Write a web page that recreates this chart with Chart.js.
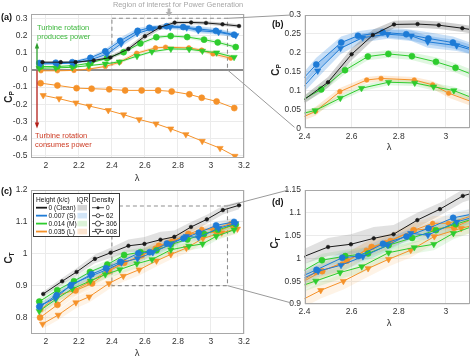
<!DOCTYPE html>
<html>
<head>
<meta charset="utf-8">
<script src="https://cdn.jsdelivr.net/npm/chart.js@4.4.1/dist/chart.umd.min.js"></script>
<style>
html,body{margin:0;padding:0;background:#fff;}
#wrap{position:relative;width:474px;height:357px;overflow:hidden;background:#fff;}
#wrap canvas{position:absolute;left:0;top:0;}
#ov{position:absolute;left:0;top:0;}
svg text{font-family:"Liberation Sans",Arial,sans-serif;}
</style>
</head>
<body>
<div id="wrap">
<canvas id="ca" width="474" height="357"></canvas>
<canvas id="cb" width="474" height="357"></canvas>
<canvas id="cc" width="474" height="357"></canvas>
<canvas id="cd" width="474" height="357"></canvas>
<svg id="ov" width="474" height="357" xmlns="http://www.w3.org/2000/svg"></svg>
</div>
<script>
// ---------- tick values / labels ----------
const xTicksWide = [2, 2.2, 2.4, 2.6, 2.8, 3, 3.2];
const xLabelsWide = ['2', '2.2', '2.4', '2.6', '2.8', '3', '3.2'];
const xTicksZoom = [2.4, 2.6, 2.8, 3];
const xLabelsZoom = ['2.4', '2.6', '2.8', '3'];
const yTicksA = [-0.5, -0.4, -0.3, -0.2, -0.1, 0, 0.1, 0.2, 0.3];
const yLabelsA = ['-0.5', '-0.4', '-0.3', '-0.2', '-0.1', '0', '0.1', '0.2', '0.3'];
const yTicksB = [0, 0.05, 0.1, 0.15, 0.2, 0.25, 0.3];
const yLabelsB = ['0', '0.05', '0.1', '0.15', '0.2', '0.25', '0.3'];
const yTicksC = [0.8, 0.9, 1, 1.1, 1.2];
const yLabelsC = ['0.8', '0.9', '1', '1.1', '1.2'];
const yTicksD = [0.9, 0.95, 1, 1.05, 1.1, 1.15];
const yLabelsD = ['0.9', '0.95', '1', '1.05', '1.1', '1.15'];

// axis ranges
const lamRangeWide = [1.91, 3.2];
const cpRangeWide = [-0.512, 0.325];
const ctRangeWide = [0.75, 1.2];
// region of interest (zoom panels)
const regionLam = [2.4, 3.1];
const regionCP = [0, 0.3];
const regionCT = [0.9, 1.15];

// legend texts
const heightLabels = ['0 (Clean)', '0.007 (S)', '0.014 (M)', '0.035 (L)'];
const densityLabels = ['0', '62', '306', '608'];

// ---------- power coefficient C_P ----------
const lamP_clean = [1.98, 2.09, 2.18, 2.29, 2.39, 2.50, 2.60, 2.69, 2.78, 2.88, 2.97, 3.07, 3.17];
const cp_clean   = [0.045, 0.045, 0.045, 0.055, 0.072, 0.122, 0.196, 0.247, 0.275, 0.276, 0.273, 0.265, 0.255];
const iqrP_clean = [0.004, 0.004, 0.004, 0.006, 0.010, 0.014, 0.016, 0.014, 0.010, 0.010, 0.010, 0.010, 0.010];

const lamP_S306 = [1.96, 2.06, 2.16, 2.27, 2.36, 2.45, 2.556, 2.627, 2.732, 2.832, 2.926, 3.03, 3.14];
const cp_S306   = [0.040, 0.042, 0.045, 0.070, 0.108, 0.169, 0.227, 0.245, 0.254, 0.249, 0.238, 0.227, 0.205];
const iqrP_S306 = [0.005, 0.005, 0.006, 0.010, 0.014, 0.018, 0.016, 0.012, 0.012, 0.014, 0.016, 0.016, 0.014];

const lamP_S608 = [1.97, 2.07, 2.17, 2.27, 2.37, 2.456, 2.553, 2.647, 2.753, 2.853, 2.923, 3.046, 3.15];
const cp_S608   = [0.035, 0.036, 0.040, 0.058, 0.092, 0.152, 0.212, 0.240, 0.249, 0.245, 0.229, 0.219, 0.200];
const iqrP_S608 = [0.005, 0.005, 0.006, 0.010, 0.014, 0.018, 0.016, 0.012, 0.012, 0.014, 0.016, 0.014, 0.012];

const lamP_M306 = [1.97, 2.07, 2.17, 2.27, 2.37, 2.471, 2.572, 2.669, 2.756, 2.856, 2.958, 3.041, 3.15];
const cp_M306   = [0.020, 0.020, 0.025, 0.040, 0.068, 0.103, 0.154, 0.190, 0.197, 0.191, 0.176, 0.160, 0.133];
const iqrP_M306 = [0.004, 0.004, 0.004, 0.006, 0.008, 0.010, 0.010, 0.010, 0.010, 0.010, 0.012, 0.012, 0.012];

const lamP_M608 = [1.96, 2.06, 2.16, 2.26, 2.36, 2.445, 2.552, 2.642, 2.757, 2.868, 2.948, 3.034, 3.14];
const cp_M608   = [0.010, 0.012, 0.015, 0.025, 0.035, 0.047, 0.080, 0.106, 0.122, 0.120, 0.110, 0.100, 0.074];
const iqrP_M608 = [0.004, 0.004, 0.004, 0.005, 0.006, 0.008, 0.008, 0.008, 0.008, 0.008, 0.010, 0.010, 0.010];

const lamP_L62 = [1.97, 2.07, 2.17, 2.26, 2.36, 2.447, 2.55, 2.664, 2.725, 2.866, 2.944, 3.012, 3.12];
const cp_L62   = [-0.005, -0.005, -0.003, 0.005, 0.020, 0.045, 0.097, 0.128, 0.132, 0.128, 0.115, 0.093, 0.068];
const iqrP_L62 = [0.003, 0.003, 0.003, 0.005, 0.008, 0.012, 0.010, 0.008, 0.008, 0.008, 0.010, 0.012, 0.012];

const lamP_L306 = [1.968, 2.07, 2.186, 2.277, 2.384, 2.48, 2.58, 2.68, 2.762, 2.869, 2.944, 3.034, 3.141];
const cp_L306   = [-0.077, -0.090, -0.106, -0.109, -0.113, -0.119, -0.119, -0.119, -0.125, -0.142, -0.162, -0.183, -0.222];

const lamP_L608 = [1.984, 2.08, 2.182, 2.262, 2.378, 2.471, 2.565, 2.667, 2.756, 2.848, 2.947, 3.055, 3.145];
const cp_L608   = [-0.148, -0.167, -0.191, -0.210, -0.235, -0.260, -0.288, -0.313, -0.342, -0.375, -0.414, -0.455, -0.501];

// ---------- thrust coefficient C_T ----------
const lamT_clean = [1.984, 2.099, 2.186, 2.297, 2.392, 2.50, 2.597, 2.694, 2.778, 2.879, 2.975, 3.072, 3.17];
const ct_clean   = [0.874, 0.914, 0.943, 0.984, 1.003, 1.025, 1.031, 1.044, 1.053, 1.084, 1.108, 1.137, 1.152];
const iqrT_clean = [0.008, 0.010, 0.012, 0.014, 0.016, 0.020, 0.022, 0.025, 0.020, 0.016, 0.014, 0.014, 0.012];

const lamT_S306 = [1.96, 2.065, 2.15, 2.277, 2.364, 2.451, 2.56, 2.629, 2.733, 2.833, 2.926, 3.031, 3.14];
const ct_S306   = [0.834, 0.870, 0.900, 0.936, 0.955, 0.975, 1.0015, 1.005, 1.032, 1.048, 1.066, 1.089, 1.100];
const iqrT_S306 = [0.010, 0.012, 0.012, 0.012, 0.013, 0.013, 0.013, 0.013, 0.012, 0.012, 0.012, 0.012, 0.012];

const lamT_S608 = [1.97, 2.06, 2.16, 2.27, 2.37, 2.458, 2.555, 2.648, 2.754, 2.851, 2.924, 3.046, 3.15];
const ct_S608   = [0.838, 0.862, 0.905, 0.930, 0.950, 0.972, 0.985, 1.004, 1.029, 1.055, 1.051, 1.080, 1.095];
const iqrT_S608 = [0.010, 0.012, 0.012, 0.012, 0.013, 0.013, 0.013, 0.013, 0.012, 0.012, 0.012, 0.012, 0.012];

const lamT_M306 = [1.96, 2.069, 2.17, 2.267, 2.372, 2.474, 2.573, 2.67, 2.757, 2.857, 2.958, 3.042, 3.15];
const ct_M306   = [0.850, 0.886, 0.914, 0.943, 0.966, 0.996, 1.005, 1.011, 1.029, 1.045, 1.062, 1.075, 1.092];
const iqrT_M306 = [0.012, 0.012, 0.013, 0.013, 0.014, 0.014, 0.014, 0.014, 0.013, 0.013, 0.013, 0.013, 0.013];

const lamT_M608 = [1.96, 2.06, 2.16, 2.27, 2.36, 2.448, 2.551, 2.643, 2.757, 2.866, 2.949, 3.032, 3.14];
const ct_M608   = [0.820, 0.857, 0.890, 0.915, 0.935, 0.9505, 0.969, 0.982, 1.0125, 1.024, 1.031, 1.055, 1.075];
const iqrT_M608 = [0.012, 0.012, 0.013, 0.013, 0.014, 0.014, 0.014, 0.014, 0.013, 0.013, 0.013, 0.013, 0.013];

const lamT_L62 = [1.97, 2.07, 2.17, 2.26, 2.37, 2.448, 2.56, 2.662, 2.745, 2.866, 2.944, 3.011, 3.12];
const ct_L62   = [0.825, 0.870, 0.885, 0.910, 0.945, 0.969, 0.988, 1.018, 1.035, 1.062, 1.077, 1.077, 1.095];
const iqrT_L62 = [0.015, 0.016, 0.018, 0.018, 0.018, 0.018, 0.018, 0.018, 0.016, 0.016, 0.016, 0.016, 0.016];

const lamT_L306 = [1.965, 2.07, 2.18, 2.28, 2.38, 2.475, 2.58, 2.685, 2.765, 2.863, 2.94, 3.035, 3.13];
const ct_L306   = [0.800, 0.840, 0.885, 0.907, 0.945, 0.972, 0.995, 1.025, 1.038, 1.062, 1.065, 1.068, 1.090];
const iqrT_L306 = [0.015, 0.016, 0.018, 0.018, 0.018, 0.018, 0.018, 0.018, 0.016, 0.016, 0.016, 0.016, 0.016];

const lamT_L608 = [1.98, 2.075, 2.182, 2.262, 2.382, 2.469, 2.565, 2.67, 2.757, 2.851, 2.951, 3.065, 3.16];
const ct_L608   = [0.780, 0.808, 0.847, 0.865, 0.907, 0.930, 0.950, 0.978, 0.998, 1.018, 1.048, 1.066, 1.078];
const iqrT_L608 = [0.015, 0.016, 0.018, 0.018, 0.018, 0.018, 0.018, 0.018, 0.016, 0.016, 0.016, 0.016, 0.016];

// ---------- styles ----------
const COL = { clean: '#1a1a1a', S: '#1e7bd6', M: '#2ecc2e', L: '#f5922a' };
const BAND_P = { clean: 'rgba(110,110,110,0.32)', S: 'rgba(40,130,225,0.25)', M: 'rgba(50,200,50,0.15)', L: 'rgba(245,150,50,0.2)' };
const BAND_T = { clean: 'rgba(120,120,120,0.22)', S: 'rgba(60,150,230,0.13)', M: 'rgba(60,200,60,0.12)', L: 'rgba(245,160,60,0.13)' };
const BAND_LEG = { clean: '#d4d4d4', S: '#d3e6f8', M: '#dcf3d8', L: '#fbe4cf' };
const MK = {
  d0:   { pointStyle: 'circle',   pointRadius: 1.8, pointRotation: 0 },
  d62:  { pointStyle: 'circle',   pointRadius: 2.3, pointRotation: 0 },
  d306: { pointStyle: 'circle',   pointRadius: 3.0, pointRotation: 0 },
  d608: { pointStyle: 'triangle', pointRadius: 3.6, pointRotation: 180 }
};

const seriesP = [
  { h: 'clean', d: 'd0',   lam: lamP_clean, val: cp_clean, iqr: iqrP_clean },
  { h: 'S',     d: 'd306', lam: lamP_S306,  val: cp_S306,  iqr: iqrP_S306 },
  { h: 'S',     d: 'd608', lam: lamP_S608,  val: cp_S608,  iqr: iqrP_S608 },
  { h: 'M',     d: 'd306', lam: lamP_M306,  val: cp_M306,  iqr: iqrP_M306 },
  { h: 'M',     d: 'd608', lam: lamP_M608,  val: cp_M608,  iqr: iqrP_M608 },
  { h: 'L',     d: 'd62',  lam: lamP_L62,   val: cp_L62,   iqr: iqrP_L62 },
  { h: 'L',     d: 'd306', lam: lamP_L306,  val: cp_L306 },
  { h: 'L',     d: 'd608', lam: lamP_L608,  val: cp_L608 }
];
const seriesT = [
  { h: 'clean', d: 'd0',   lam: lamT_clean, val: ct_clean, iqr: iqrT_clean },
  { h: 'S',     d: 'd306', lam: lamT_S306,  val: ct_S306,  iqr: iqrT_S306 },
  { h: 'S',     d: 'd608', lam: lamT_S608,  val: ct_S608,  iqr: iqrT_S608 },
  { h: 'M',     d: 'd306', lam: lamT_M306,  val: ct_M306,  iqr: iqrT_M306 },
  { h: 'M',     d: 'd608', lam: lamT_M608,  val: ct_M608,  iqr: iqrT_M608 },
  { h: 'L',     d: 'd62',  lam: lamT_L62,   val: ct_L62,   iqr: iqrT_L62 },
  { h: 'L',     d: 'd306', lam: lamT_L306,  val: ct_L306,  iqr: iqrT_L306 },
  { h: 'L',     d: 'd608', lam: lamT_L608,  val: ct_L608,  iqr: iqrT_L608 }
];

function buildDatasets(list, bands, clip) {
  const ds = [];
  list.forEach(s => {
    if (!s.iqr) return;
    const up = ds.length;
    ds.push({ data: s.lam.map((l, i) => ({ x: l, y: s.val[i] + s.iqr[i] })), borderColor: 'rgba(0,0,0,0)', borderWidth: 1,
      pointRadius: 0, fill: false, order: 10, clip });
    ds.push({ data: s.lam.map((l, i) => ({ x: l, y: s.val[i] - s.iqr[i] })), borderColor: 'rgba(0,0,0,0)', borderWidth: 1,
      pointRadius: 0, fill: up, backgroundColor: bands[s.h], order: 10, clip });
  });
  list.forEach(s => {
    const m = MK[s.d];
    ds.push({ data: s.lam.map((l, i) => ({ x: l, y: s.val[i] })), borderColor: COL[s.h], backgroundColor: COL[s.h],
      borderWidth: 1, pointStyle: m.pointStyle, pointRadius: m.pointRadius, pointRotation: m.pointRotation,
      pointBorderWidth: 0.6, pointBorderColor: COL[s.h], pointBackgroundColor: COL[s.h], fill: false, order: 0, clip });
  });
  return ds;
}

Chart.defaults.font.family = '"Liberation Sans", Arial, sans-serif';
Chart.defaults.font.size = 8.5;
Chart.defaults.color = '#333';

function axis(range, ticks, labels, isY, size, zeroBold) {
  const isZero = c => zeroBold && c.tick && Math.abs(c.tick.value) < 1e-9;
  return {
    type: 'linear', min: range[0], max: range[1],
    afterBuildTicks: ax => { ax.ticks = ticks.map(v => ({ value: v })); },
    afterFit: ax => { if (isY) ax.width = size; else ax.height = size; },
    ticks: {
      autoSkip: false, maxRotation: 0, padding: isY ? 3.5 : 3, color: '#333', font: { size: 8.5 },
      callback: v => { const i = ticks.findIndex(t => Math.abs(t - v) < 1e-9); return i < 0 ? '' : labels[i]; }
    },
    grid: { drawTicks: false, color: c => isZero(c) ? '#8c8c8c' : '#ebebeb', lineWidth: c => isZero(c) ? 2 : 1 },
    border: { display: false }
  };
}

const framePlugin = {
  id: 'frame',
  afterDatasetsDraw(chart) {
    const { ctx, chartArea: a } = chart;
    ctx.save();
    ctx.strokeStyle = '#a8a8a8'; ctx.lineWidth = 1;
    ctx.strokeRect(Math.round(a.left) + 0.5, Math.round(a.top) + 0.5, Math.round(a.right - a.left) - 1, Math.round(a.bottom - a.top) - 1);
    ctx.restore();
  }
};
function regionPlugin(xr, yr) {
  return {
    id: 'region',
    beforeDatasetsDraw(chart) {
      const { ctx } = chart, x = chart.scales.x, y = chart.scales.y;
      const l = x.getPixelForValue(xr[0]), r = x.getPixelForValue(xr[1]);
      const t = y.getPixelForValue(yr[1]), b = y.getPixelForValue(yr[0]);
      ctx.save();
      ctx.setLineDash([4, 3]); ctx.strokeStyle = '#8f8f8f'; ctx.lineWidth = 1.1;
      ctx.strokeRect(l, t, r - l, b - t);
      ctx.restore();
    }
  };
}

function makeChart(id, datasets, xr, xt, xl, yr, yt, yl, pad, yW, zeroBold, extra) {
  return new Chart(document.getElementById(id), {
    type: 'line',
    data: { datasets },
    options: {
      responsive: false, animation: false, devicePixelRatio: 1,
      layout: { padding: pad },
      plugins: { legend: { display: false }, tooltip: { enabled: false } },
      elements: { line: { tension: 0 } },
      scales: { x: axis(xr, xt, xl, false, 16, false), y: axis(yr, yt, yl, true, yW, zeroBold) }
    },
    plugins: [framePlugin].concat(extra || [])
  });
}

const chartA = makeChart('ca', buildDatasets(seriesP, BAND_P), lamRangeWide, xTicksWide, xLabelsWide,
  cpRangeWide, yTicksA, yLabelsA, { left: 5, top: 14, right: 230, bottom: 183 }, 26, true, [regionPlugin(regionLam, regionCP)]);
const chartB = makeChart('cb', buildDatasets(seriesP, BAND_P, 0), regionLam, xTicksZoom, xLabelsZoom,
  regionCP, yTicksB, yLabelsB, { left: 274.5, top: 15, right: 2, bottom: 212.7 }, 30, false);
const chartC = makeChart('cc', buildDatasets(seriesT, BAND_T), lamRangeWide, xTicksWide, xLabelsWide,
  ctRangeWide, yTicksC, yLabelsC, { left: 5, top: 190, right: 230, bottom: 7.5 }, 26, false, [regionPlugin(regionLam, regionCT)]);
const chartD = makeChart('cd', buildDatasets(seriesT, BAND_T, 0), regionLam, xTicksZoom, xLabelsZoom,
  regionCT, yTicksD, yLabelsD, { left: 274.5, top: 190, right: 2, bottom: 37 }, 30, false);

// ---------- overlay (annotations, legend, titles) ----------
const NS = 'http://www.w3.org/2000/svg';
const ov = document.getElementById('ov');
function el(tag, attrs, text, parent) {
  const e = document.createElementNS(NS, tag);
  for (const k in attrs) e.setAttribute(k, attrs[k]);
  if (text !== undefined && text !== null) e.textContent = text;
  (parent || ov).appendChild(e);
  return e;
}

// connector lines from region boxes to zoom panels
function connect(src, yr, dst, offTop, offBot) {
  const x = src.scales.x.getPixelForValue(regionLam[1]);
  const yT = src.scales.y.getPixelForValue(yr[1]);
  const yB = src.scales.y.getPixelForValue(yr[0]);
  const a = dst.chartArea;
  el('line', { x1: x, y1: yT, x2: a.left - offTop, y2: a.top, stroke: '#9a9a9a', 'stroke-width': 1 });
  el('line', { x1: x, y1: yB, x2: a.left - offBot, y2: a.bottom - 1, stroke: '#9a9a9a', 'stroke-width': 1 });
}
connect(chartA, regionCP, chartB, 13, 10);
connect(chartC, regionCT, chartD, 16, 13);

// panel labels
[['(a)', 1, 19.5], ['(b)', 272, 26.5], ['(c)', 1, 193.5], ['(d)', 272, 204.5]].forEach(p =>
  el('text', { x: p[1], y: p[2], 'font-size': 9, 'font-weight': 'bold', fill: '#111' }, p[0]));

// axis titles
function yTitle(cx, cy, sub) {
  const t = el('text', { transform: `translate(${cx},${cy}) rotate(-90)`, 'text-anchor': 'middle', 'font-size': 10, 'font-weight': 'bold', fill: '#222' }, null);
  el('tspan', {}, 'C', t);
  el('tspan', { 'font-size': 6.5, dy: 2.2 }, sub, t);
}
yTitle(12, 97, 'P'); yTitle(279, 70, 'P'); yTitle(12, 258, 'T'); yTitle(278, 243, 'T');
[[137, 181], [389, 150], [137, 356], [389, 326]].forEach(p =>
  el('text', { x: p[0], y: p[1], 'text-anchor': 'middle', 'font-size': 9.5, fill: '#333' }, 'λ'));

// region of interest title + arrow
el('text', { x: 178, y: 7, 'text-anchor': 'middle', 'font-size': 7.4, fill: '#a6a6a6' }, 'Region of interest for Power Generation');
el('polygon', { points: '167.6,8.5 170.4,8.5 170.4,12 172.4,12 169,16.5 165.6,12 167.6,12', fill: '#b4b4b4' });

// power arrows and notes in (a)
el('line', { x1: 37, y1: 69, x2: 37, y2: 47, stroke: '#2e9e2e', 'stroke-width': 1.3 });
el('polygon', { points: '37,42.5 34.8,48.5 39.2,48.5', fill: '#2e9e2e' });
el('line', { x1: 37, y1: 70.5, x2: 37, y2: 123, stroke: '#b3201a', 'stroke-width': 1.3 });
el('polygon', { points: '37,128.5 34.8,122.5 39.2,122.5', fill: '#b3201a' });
el('text', { x: 37, y: 30, 'font-size': 7.5, fill: '#3cb83c' }, 'Turbine rotation');
el('text', { x: 37, y: 38.6, 'font-size': 7.5, fill: '#3cb83c' }, 'produces power');
el('text', { x: 35, y: 137.8, 'font-size': 7.5, fill: '#cc3a22' }, 'Turbine rotation');
el('text', { x: 35, y: 146.8, 'font-size': 7.5, fill: '#cc3a22' }, 'consumes power');

// legend in (c)
const heightKeys = ['clean', 'S', 'M', 'L'];
const densityKeys = ['d0', 'd62', 'd306', 'd608'];
el('rect', { x: 33.5, y: 193.5, width: 86, height: 43, fill: '#fff', stroke: '#222', 'stroke-width': 0.9 });
el('line', { x1: 89.5, y1: 193.5, x2: 89.5, y2: 236.5, stroke: '#222', 'stroke-width': 0.9 });
el('text', { x: 36, y: 201.5, 'font-size': 6.6, fill: '#111' }, 'Height (k/c)');
el('text', { x: 76.5, y: 201.5, 'font-size': 6.6, fill: '#111' }, 'IQR');
el('text', { x: 92, y: 201.5, 'font-size': 6.6, fill: '#111' }, 'Density');
heightKeys.forEach((k, i) => {
  const y = 207.7 + i * 7.95;
  el('line', { x1: 36, y1: y, x2: 47, y2: y, stroke: COL[k], 'stroke-width': 1.8 });
  el('text', { x: 48.5, y: y + 2.4, 'font-size': 6.6, fill: '#111' }, heightLabels[i]);
  el('rect', { x: 77.5, y: y - 2.8, width: 9.5, height: 5.6, fill: BAND_LEG[k] });
});
densityKeys.forEach((k, i) => {
  const y = 207.7 + i * 7.95;
  el('line', { x1: 92, y1: y, x2: 104, y2: y, stroke: '#222', 'stroke-width': 0.8 });
  if (k === 'd0') el('circle', { cx: 98, cy: y, r: 1.5, fill: '#222' });
  else if (k === 'd62') el('circle', { cx: 98, cy: y, r: 1.9, fill: '#fff', stroke: '#222', 'stroke-width': 0.8 });
  else if (k === 'd306') el('circle', { cx: 98, cy: y, r: 2.6, fill: '#fff', stroke: '#222', 'stroke-width': 0.8 });
  else el('polygon', { points: `${95},${y - 2.2} ${101},${y - 2.2} ${98},${y + 2.8}`, fill: '#fff', stroke: '#222', 'stroke-width': 0.8 });
  el('text', { x: 106, y: y + 2.4, 'font-size': 6.6, fill: '#111' }, densityLabels[i]);
});
</script>
</body>
</html>
